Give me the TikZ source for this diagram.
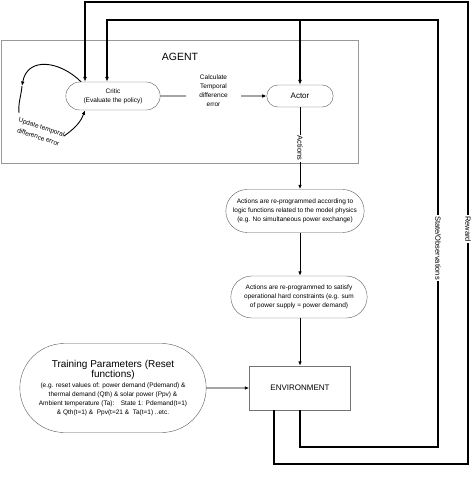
\documentclass[tikz,border=0pt]{standalone}
\usepackage{fontspec}
\setmainfont{Liberation Sans}
\usetikzlibrary{positioning, calc, shapes.misc, arrows.meta}
\tikzstyle{Arrow} = [
%Arrow style for the flow lines:
line width=0.9pt,
-{Latex[length=4.5pt,width=3.6pt]}
]
\tikzstyle{Loop} = [
%Heavy feedback lines from the environment:
line width=1.4pt,
-{Latex[length=5pt,width=4pt]}
]
\newcommand{\bigtxt}{\fontsize{10}{11}\selectfont}
\newcommand{\smalltxt}{\fontsize{6.5}{9.3}\selectfont}

\begin{document}
\begin{tikzpicture}[x=1pt, y=1pt,
		pill/.style = {rounded rectangle, draw=black!65, thin, align=center, font=\fontsize{6.5}{9}\selectfont},
		envbox/.style = {rectangle, draw=black!55, thin, align=center, font=\fontsize{8}{9}\selectfont},
		sidelbl/.style = {fill=white, inner sep=1pt, rotate=-90, font=\fontsize{7.5}{8}\selectfont},
		small/.style = {align=center, font=\fontsize{6.5}{9}\selectfont},
	]
	\useasboundingbox (0,0) rectangle (474,-479);
	% agent frame
	\draw[black!40, line width=0.7pt] (1.5,-40) rectangle (358,-163);
	\node[font=\fontsize{10.5}{12}\selectfont] (agent) at (180,-57) {AGENT};

	\node[pill, minimum width=101pt, minimum height=28pt] (critic) at (113,-96) {Critic\\(Evaluate the policy)};
	\node[pill, minimum width=73pt, minimum height=22pt, font=\fontsize{8}{9}\selectfont] (actor) at (300,-96) {Actor};
	\node[pill, minimum width=145pt, minimum height=43pt] (logic) at (295,-211) {Actions are re-programmed according to\\logic functions related to the model physics\\(e.g. No simultaneous power exchange)};
	\node[pill, minimum width=143pt, minimum height=42pt] (hard) at (299,-297) {Actions are re-programmed to satisfy\\operational hard constraints (e.g. sum\\of power supply = power demand)};
	\node[envbox, minimum width=101pt, minimum height=44pt] (env) at (300,-388) {ENVIRONMENT};
	\node[pill, minimum width=193pt, minimum height=89pt] (train) at (113,-388) {\bigtxt Training Parameters (Reset\\\bigtxt functions)\\[1pt]\smalltxt (e.g. reset values of: power demand (Pdemand) \&\\\smalltxt thermal demand (Qth) \& solar power (Ppv) \&\\\smalltxt Ambient temperature (Ta):\quad State 1: Pdemand(t=1)\\\smalltxt \& Qth(t=1) \& \ Ppv(t=21 \& \ Ta(t=1) ..etc.};

	\draw[Arrow](critic)--node[small, fill=white, inner xsep=13pt, yshift=5pt] (tdlbl) {Calculate\\Temporal\\difference\\error}(actor);
	\draw[Arrow](actor.south)--node[sidelbl] (actlbl) {Actions}(actor.south |- logic.north);
	\draw[Arrow](logic.south -| actor)--(hard.north -| actor);
	\draw[Arrow](hard.south -| actor)--(env.north);
	\draw[Arrow](train)--(env);

	% feedback lines
	\coordinate (rwdSE) at (468,-464);
	\coordinate (rwdNW) at (85,-2);
	\coordinate (obsSE) at (438,-447);
	\coordinate (obsNW) at (107,-20);
	\coordinate (obsJoin) at (300,-20);
	\draw[Loop]([xshift=-26pt]env.south) |- (rwdSE) |- (rwdNW) -- ([xshift=-28pt]critic.north);
	\draw[Loop](env.south) |- (obsSE) |- (obsNW) -- ([xshift=-6pt]critic.north);
	\draw[Loop](obsJoin)--(actor.north);
	\node[sidelbl] (obslbl) at (438,-248) {State/Observations};
	\node[sidelbl] (rwdlbl) at (468,-229) {Reward};

	% critic update loop
	\coordinate (loopTip) at (22,-86);
	\coordinate (loopLow) at (19,-113);
	\coordinate (loopBack) at (64,-136);
	\draw[Arrow]([xshift=-32pt]critic.north) to[out=135, in=80, looseness=1.3] (loopTip);
	\draw[line width=0.9pt](loopTip) to[out=-95, in=95] (loopLow);
	\node[small, rotate=-18] (update) at (40,-132) {Update temporal\\[1.5pt]difference error};
	\draw[Arrow](loopBack) to[out=35, in=-110] ([xshift=-28pt]critic.south);
\end{tikzpicture}
\end{document}
